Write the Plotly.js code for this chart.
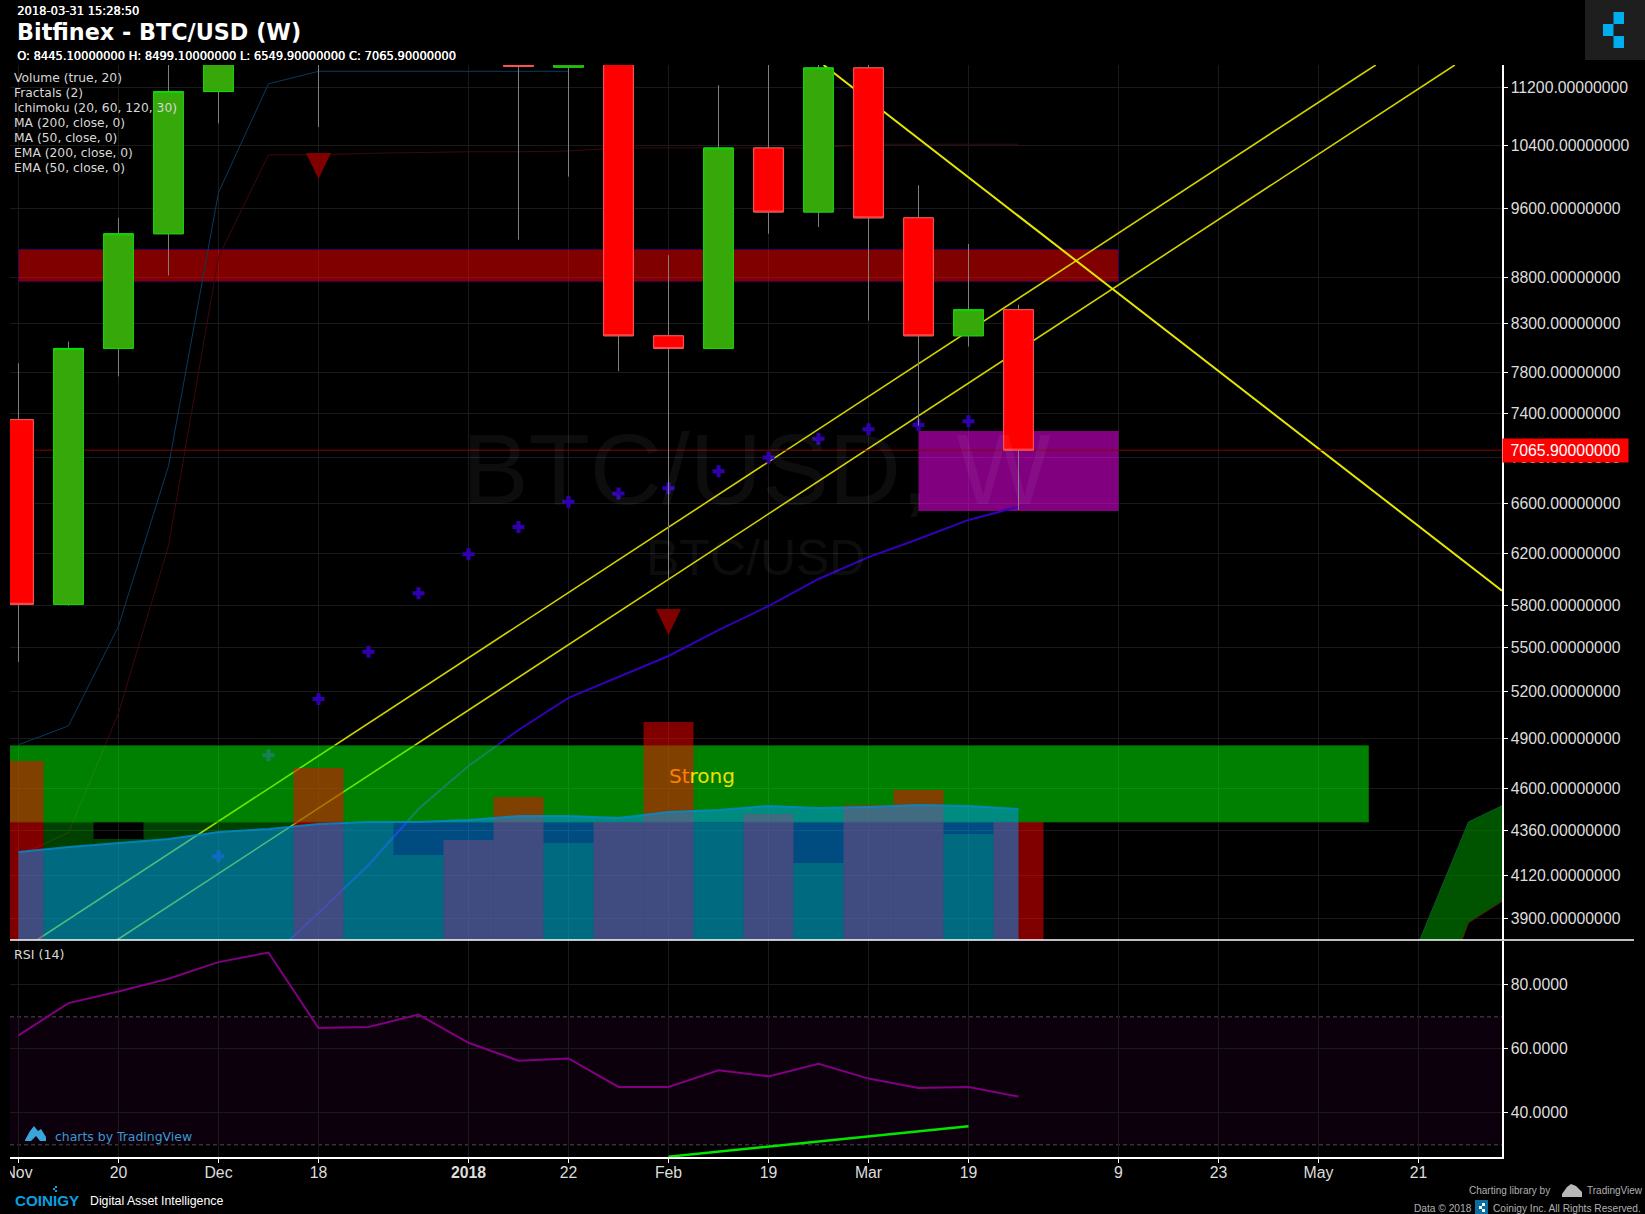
<!DOCTYPE html>
<html><head><meta charset="utf-8">
<script src="https://cdn.plot.ly/plotly-3.0.1.min.js"></script>
<style>html,body{margin:0;padding:0;background:#000}#c{width:1645px;height:1214px}</style>
</head><body><div id="c"></div>
<script>
// ---------- data ----------
const weeks = ["2017-11-06","2017-11-13","2017-11-20","2017-11-27","2017-12-04","2017-12-11","2017-12-18","2017-12-25","2018-01-01","2018-01-08","2018-01-15","2018-01-22","2018-01-29","2018-02-05","2018-02-12","2018-02-19","2018-02-26","2018-03-05","2018-03-12","2018-03-19","2018-03-26"];
const opens  = [7345,5810,8040,9300,11140,15250,19000,14000,13500,16200,13650,11490,11700,8170,8040,10370,9560,11480,9490,8170,8445.1];
const highs  = [7890,8110,9490,11800,17200,19890,19500,16500,17250,17170,14000,12000,12000,9050,11230,11800,11700,11650,9890,9180,8499.1];
const lows   = [5400,5800,7760,8820,10700,14900,10650,11900,12800,12800,9230,10000,7810,6000,8040,9300,9380,8330,7290,8060,6549.9];
const closes = [5810,8040,9300,11140,15250,19000,14000,13500,16200,13650,11500,11700,8170,8040,10370,9560,11480,9490,8170,8445.1,7065.9];

const volumes   = [179,118,101,118,118,118,172,118,85,100,143,97,118,218,117,126,77,135,150,106,118];
const volumeDown= [1,0,0,0,0,0,1,0,0,1,1,0,1,1,0,1,0,1,1,0,1];
const volumeMA  = [88,93,97,101,108,111,116,118,118,120,124,124,122,128,130,134,132,133,135,134,131];

const emaFast = [3700,3926,4173,4480,4732,4953,5159,5298,5441,5623,5797,6000,6169,6312,6467,6575];
const emaWeeks = weeks.slice(5);
const sarValues = [4220,4797,5152,5471,5893,6192,6410,6618,6688,6733,6880,7000,7170,7255,7295,7330];
const sarWeeks = ["2017-12-04","2017-12-11","2017-12-18","2017-12-25","2018-01-01","2018-01-08","2018-01-15","2018-01-22","2018-01-29","2018-02-05","2018-02-12","2018-02-19","2018-02-26","2018-03-05","2018-03-12","2018-03-19"];
const spanBlue = [4861,4979,5650,6925,9800,11250,11430,11430,11430,11430,11430,11430];
const spanRed  = [4223,4348,5060,6258,9030,10280,10280,10300,10310,10320,10320,10330,10370,10370,10370,10370,10370,10420,10420,10420,10420];
const cloudWeeks = ["2018-05-21","2018-05-28","2018-06-04"];
const cloudTop = [3780,4407,4545];
const cloudBottom = [3278,3878,4038];

const trendUpperX = ["2017-11-08 14:00","2018-05-15 00:00"], trendUpperY = [3794,11522];
const trendLowerX = ["2017-11-19 19:00","2018-05-26 02:00"], trendLowerY = [3794,11522];
const trendDownX  = ["2018-02-26 17:00","2018-06-01 16:30"], trendDownY  = [11522,5911];

const greenZoneX = ["2017-10-01","2018-05-14"], greenZoneY = [4407,4855];
const redZoneX = ["2017-11-06","2018-04-09"], redZoneY = [8752,9117];
const purpleZoneX = ["2018-03-12","2018-04-09"], purpleZoneY = [6541,7240];
const fractalX = ["2017-12-18","2018-02-05"], fractalY = [10135,5681];

const rsiValues = [64.2,74.3,77.9,81.9,87.1,90.1,66.5,66.8,70.7,61.9,56.3,57,48.1,48.1,53.3,51.4,55.3,50.7,47.8,48.1,45.1];
const rsiDivX = ["2018-02-05","2018-03-19"], rsiDivY = [26.3,35.8];
const rsiBounds = [30,70];

const priceTicks = [11200,10400,9600,8800,8300,7800,7400,7000,6600,6200,5800,5500,5200,4900,4600,4360,4120,3900];
const rsiTicks = [80,60,40];
const dateTicks = ["2017-11-06","2017-11-20","2017-12-04","2017-12-18","2018-01-08","2018-01-22","2018-02-05","2018-02-19","2018-03-05","2018-03-19","2018-04-09","2018-04-23","2018-05-07","2018-05-21"];
const dateLabels = ["Nov","20","Dec","18","<b>2018</b>","22","Feb","19","Mar","19","9","23","May","21"];
const xRange = ["2017-11-04 19:30","2018-06-01 16:30"];
const priceRange = [3794,11522];
const rsiRange = [26.2,93.7];
const lastPrice = 7065.9;
const legendLines = ["Volume (true, 20)","Fractals (2)","Ichimoku (20, 60, 120, 30)","MA (200, close, 0)","MA (50, close, 0)","EMA (200, close, 0)","EMA (50, close, 0)"];

// ---------- helpers ----------
const L=10,R=1502,T=65,B=1157,SEP=940;
const px=x=>(x-L)/(R-L), py=y=>(B-y)/(B-T);
const pathOf=pts=>pts.map((p,i)=>(i?'L':'M')+px(p[0])+' '+py(p[1])).join(' ')+' Z';
const logR=Math.log10, priceLog=priceRange.map(v=>logR(v));
const SANS="'Liberation Sans',Arial,sans-serif", DJ="'DejaVu Sans',sans-serif";
const txt=(x,y,text,size,color,fam,extra)=>Object.assign({xref:'paper',yref:'paper',x:px(x),y:py(y),text,showarrow:false,xanchor:'left',yanchor:'middle',font:{size,color,family:fam},borderpad:0,captureevents:false},extra||{});
const box=(x0,y0,x1,y1,color)=>({type:'rect',xref:'paper',yref:'paper',x0:px(x0),x1:px(x1),y0:py(y0),y1:py(y1),fillcolor:color,line:{width:0},layer:'above'});
const poly=(pts,color)=>({type:'path',xref:'paper',yref:'paper',path:pathOf(pts),fillcolor:color,line:{width:0},layer:'above'});

// ---------- traces ----------
const bodyHi=opens.map((o,i)=>Math.max(o,closes[i])), bodyLo=opens.map((o,i)=>Math.min(o,closes[i]));
const closeLine=(x,y,color,width,yaxis,extra)=>Object.assign({type:'scatter',mode:'lines',x,y,yaxis:yaxis||'y',line:{color,width:width||1},hoverinfo:'skip',showlegend:false},extra||{});
const traces=[
 closeLine(weeks.slice(0,12),spanBlue,'#0a3a5e',1),
 closeLine(weeks,spanRed,'#3c0a0a',1),
 closeLine(emaWeeks,emaFast,'#3300bb',2),
 closeLine(trendUpperX,trendUpperY,'#d2d200',1.6),
 closeLine(trendLowerX,trendLowerY,'#d2d200',1.6),
 closeLine(trendDownX,trendDownY,'#e6e600',2),
 closeLine(xRange,[lastPrice,lastPrice],'#8a0000',1),
 {type:'scatter',mode:'markers',x:sarWeeks,y:sarValues,yaxis:'y',marker:{symbol:'cross',size:10,color:'#3000b0',line:{width:0}},hoverinfo:'skip',showlegend:false},
 closeLine(cloudWeeks,cloudTop,'#0a5a2a',1),
 closeLine(cloudWeeks,cloudBottom,'#5a1a0a',1,'y',{fill:'tonexty',fillcolor:'rgba(0,128,0,0.66)'}),
 // candles: wicks first, bodies over them
 {type:'candlestick',x:weeks,open:opens,high:highs,low:lows,close:closes,yaxis:'y2',
  increasing:{line:{color:'#808080',width:1},fillcolor:'#36a80a'},decreasing:{line:{color:'#808080',width:1},fillcolor:'#ff0000'},hoverinfo:'skip',showlegend:false},
 {type:'candlestick',x:weeks,open:opens,high:bodyHi,low:bodyLo,close:closes,yaxis:'y2',
  increasing:{line:{color:'#00e000',width:1},fillcolor:'#36a80a'},decreasing:{line:{color:'#ff5050',width:1},fillcolor:'#ff0000'},hoverinfo:'skip',showlegend:false},
 // strong support zone
 closeLine([greenZoneX[0],greenZoneX[1],greenZoneX[1],greenZoneX[0],greenZoneX[0]],[greenZoneY[0],greenZoneY[0],greenZoneY[1],greenZoneY[1],greenZoneY[0]],'rgba(0,110,0,0.8)',1,'y3',{fill:'toself',fillcolor:'rgba(0,255,0,0.5)'}),
 // volume
 {type:'bar',x:weeks,y:volumes,yaxis:'y4',width:604800000,marker:{color:volumeDown.map(d=>d?'rgba(255,0,0,0.5)':'rgba(0,255,0,0.25)'),line:{width:0}},hoverinfo:'skip',showlegend:false},
 closeLine(weeks,volumeMA,'rgba(0,140,210,0.8)',2,'y4',{fill:'tozeroy',fillcolor:'rgba(0,150,255,0.5)'}),
 // RSI
 closeLine(weeks,rsiValues,'#800080',2,'y5'),
 closeLine(rsiDivX,rsiDivY,'#00e600',2.5,'y5')
];

// ---------- layout ----------
const hidden=(range,type)=>({type,range,overlaying:'y',visible:false,showgrid:false,zeroline:false,fixedrange:true});
const gridC='#1a1a1a';
const shapes=[
 {type:'rect',xref:'x',yref:'y',x0:redZoneX[0],x1:redZoneX[1],y0:redZoneY[0],y1:redZoneY[1],fillcolor:'rgba(255,0,0,0.5)',line:{color:'rgba(50,0,110,0.8)',width:1},layer:'between'},
 {type:'rect',xref:'x',yref:'y',x0:purpleZoneX[0],x1:purpleZoneX[1],y0:purpleZoneY[0],y1:purpleZoneY[1],fillcolor:'rgba(255,0,255,0.5)',line:{width:0},layer:'between'},
 {type:'rect',xref:'paper',yref:'y5',x0:0,x1:1,y0:rsiBounds[0],y1:rsiBounds[1],fillcolor:'rgba(128,0,128,0.1)',line:{width:0},layer:'below'},
 ...rsiBounds.map(v=>({type:'line',xref:'paper',yref:'y5',x0:0,x1:1,y0:v,y1:v,line:{color:'#544a54',width:1,dash:'4px,3px'},layer:'below'})),
 ...fractalX.map((d,i)=>({type:'path',xsizemode:'pixel',ysizemode:'pixel',xref:'x',yref:'y',xanchor:d,yanchor:fractalY[i],path:'M-12.5 13 L12.5 13 L0 -13 Z',fillcolor:'#800000',line:{width:0},layer:'above'})),
 {type:'line',xref:'paper',yref:'paper',x0:px(L),x1:px(1634),y0:py(SEP),y1:py(SEP),line:{color:'#fff',width:1.5},layer:'above'},
 box(0,1158,L,1190,'#000'),
 box(1585,0,1645,60,'#1e1e1e'),
 box(1613.5,12,1624,24,'#00adee'),box(1603,24,1613.5,36,'#00adee'),box(1613.5,36,1624,48,'#00adee'),
 // TradingView clouds
 poly([[25,1140],[30,1131],[34,1126],[38,1131],[41,1129],[46,1137],[46,1141],[40,1141],[36,1136],[31,1141],[25,1141]],'#3aa5d8'),
 poly([[1562,1194],[1567,1187],[1571,1184],[1576,1186],[1582,1192],[1582,1197],[1562,1197]],'#b8b8b8'),
 // Coinigy marks
 box(55,1186,57,1188,'#0aa0e0'),box(53,1188,55,1190,'#0aa0e0'),box(55,1190,57,1192,'#0aa0e0'),
 box(1475,1200,1488,1214,'#0a6fa0'),box(1482,1203,1485,1206,'#fff'),box(1479,1206,1482,1209,'#fff'),box(1482,1209,1485,1212,'#fff')
];
const semibold=(x,y,text,size)=>txt(x,y,text,size,'#fff',DJ,{font:{size,color:'#fff',family:DJ,shadow:'0.4px 0 0 #fff'}});
const annotations=[
 {xref:'paper',yref:'paper',x:px(757),y:py(469),text:'BTC/USD, W',showarrow:false,font:{size:100,color:'rgba(255,255,255,0.05)',family:SANS},xanchor:'center',yanchor:'middle'},
 {xref:'paper',yref:'paper',x:px(755),y:py(558),text:'BTC/USD',showarrow:false,font:{size:50,color:'rgba(255,255,255,0.05)',family:SANS},xanchor:'center',yanchor:'middle'},
 semibold(15.5,11,'2018-03-31 15:28:50',11.5),
 txt(16,32,'<b>Bitfinex - BTC/USD (W)</b>',22.3,'#fff',DJ),
 semibold(15.5,56,'O: 8445.10000000 H: 8499.10000000 L: 6549.90000000 C: 7065.90000000',11.5),
 ...legendLines.map((s,i)=>txt(13,78+i*15,s,12.3,'#d8d8d8',DJ)),
 txt(13,954,'RSI (14)',12.6,'#d8d8d8',DJ),
 txt(668,776,'<span style="color:#ff8000">St</span><span style="color:#f0e000">rong</span>',20,'#ff8000',DJ),
 {xref:'paper',yref:'y',x:1,y:logR(lastPrice),xanchor:'left',yanchor:'middle',text:'7065.90000000',showarrow:false,bgcolor:'#ff0000',font:{size:15.8,color:'#fff',family:SANS},borderpad:0,width:125,height:23,align:'center'},
 txt(54,1136,'charts by TradingView',12.45,'#3a9ad0',DJ),
 txt(14,1200,'<b>COINIGY</b>',15.2,'#0aa0e0',SANS),
 txt(89,1201,'Digital Asset Intelligence',12.3,'#ffffff',SANS),
 txt(1468,1191,'Charting library by',10,'#b0b0b0',SANS),
 txt(1585.5,1191,'TradingView',10,'#b0b0b0',SANS),
 txt(1413,1208,'Data © 2018',10.2,'#b0b0b0',SANS),
 txt(1492,1208,'Coinigy Inc. All Rights Reserved.',10.2,'#b0b0b0',SANS)
];
const axFont={size:15.8,color:'#ddd',family:SANS};
const layout={
 width:1645,height:1214,autosize:false,paper_bgcolor:'#000',plot_bgcolor:'#000',showlegend:false,hovermode:false,
 margin:{l:L,r:1645-R,t:T,b:1214-B,pad:0},barmode:'overlay',boxgap:0.153,
 xaxis:{type:'date',range:xRange,anchor:'y5',rangeslider:{visible:false},tickmode:'array',tickvals:dateTicks,ticktext:dateLabels,ticks:'outside',ticklen:4,tickcolor:'#fff',tickangle:0,ticklabelstandoff:-3,
  showgrid:true,gridcolor:gridC,gridwidth:1,showline:true,linecolor:'#fff',linewidth:1.5,zeroline:false,tickfont:axFont,fixedrange:true},
 yaxis:{type:'log',range:priceLog,domain:[(B-SEP)/(B-T),1],side:'right',anchor:'x',tickmode:'array',tickvals:priceTicks,ticktext:priceTicks.map(v=>v.toFixed(8)),ticks:'outside',ticklen:4,tickcolor:'#fff',
  showgrid:true,gridcolor:gridC,gridwidth:1,showline:true,linecolor:'#fff',linewidth:1.5,zeroline:false,tickfont:axFont,fixedrange:true},
 yaxis2:hidden(priceLog,'log'),
 yaxis3:hidden(priceLog,'log'),
 yaxis4:hidden([0,875],'linear'),
 yaxis5:{type:'linear',range:rsiRange,domain:[0,(B-SEP-1)/(B-T)],side:'right',anchor:'x',tickmode:'array',tickvals:rsiTicks,ticktext:rsiTicks.map(v=>v.toFixed(4)),ticks:'outside',ticklen:4,tickcolor:'#fff',
  showgrid:true,gridcolor:gridC,gridwidth:1,showline:true,linecolor:'#fff',linewidth:1.5,zeroline:false,tickfont:axFont,fixedrange:true},
 shapes,annotations
};
Plotly.newPlot('c',traces,layout,{displayModeBar:false,staticPlot:true});
</script></body></html>
